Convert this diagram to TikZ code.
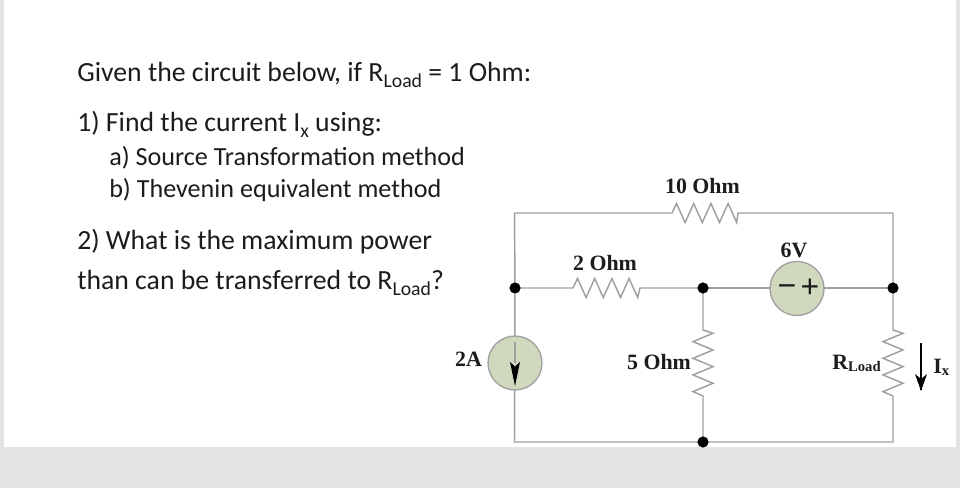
\documentclass[tikz,border=0pt]{standalone}
\usepackage{fontspec}
\setmainfont{Carlito}
\newfontfamily\circfont{Liberation Serif}[Scale=1]
\newfontfamily\signfont{Liberation Sans}
\newcommand{\lowsub}[1]{{\fontsize{14.8pt}{16pt}\selectfont\raisebox{-0.3em}{#1}}}
\begin{document}
\begin{tikzpicture}[x=0.75pt,y=-0.75pt,
  wire/.style={draw=wiregray,line width=1.1pt,line join=miter},
  reshz/.style={to path={-- ++(4.5,-9.5) -- ++(8.6,19) -- ++(8.6,-19) -- ++(8.6,19) -- ++(8.6,-19) -- ++(8.6,19) -- ++(8.6,-19) -- ++(8.6,19) -- (\tikztotarget)}},
  resvt/.style={to path={-- ++(10,3.3) -- ++(-20,8.33) -- ++(20,8.33) -- ++(-20,8.33) -- ++(20,8.33) -- ++(-20,8.33) -- ++(20,8.33) -- ++(-20,8.33) -- (\tikztotarget)}},
  dot/.style={circle,fill=black,inner sep=0pt,minimum size=8.4pt},
  source/.style={circle,draw=wiregray,fill=srcgreen,line width=1pt,inner sep=0pt,minimum size=40.5pt},
  para/.style={anchor=base west,inner sep=0pt,text=inkblack,font=\fontsize{20.8pt}{24pt}\selectfont},
  paraind/.style={para,font=\fontsize{19.6pt}{22pt}\selectfont},
  clabel/.style={anchor=base,inner sep=0pt,text=inkblack,font=\circfont\bfseries\fontsize{16.4pt}{18pt}\selectfont}]
\definecolor{wiregray}{HTML}{A0A0A0}
\definecolor{srcgreen}{HTML}{D0D9BE}
\definecolor{inkblack}{HTML}{1C1C1C}
\definecolor{pagegray}{HTML}{E4E4E4}
\useasboundingbox (0,0) rectangle (960,488);
\fill[pagegray] (0,0) rectangle (960,488);
\fill[white] (4,0) rectangle (956,447);

% text
\node[para] (t1) at (77,82) {Given the circuit below, if R\lowsub{Load} = 1 Ohm:};
\node[para] (t2) at (77,132) {1) Find the current I\lowsub{x} using:};
\node[paraind] (t3) at (109,166) {a) Source Transformation method};
\node[paraind] (t4) at (109,198) {b) Thevenin equivalent method};
\node[para] (t5) at (77,250) {2) What is the maximum power};
\node[para] (t6) at (77,290) {than can be transferred to R\lowsub{Load}?};

% junctions and anchors
\coordinate (tl) at (514.5,213);
\coordinate (tr) at (893,213);
\coordinate (bl) at (514.5,442);
\coordinate (br) at (893,442);
\coordinate (r10a) at (672,213);
\coordinate (r10b) at (738,213);
\coordinate (r2a) at (573,288);
\coordinate (r2b) at (640,288);
\coordinate (r5a) at (703,330);
\coordinate (r5b) at (703,396);
\coordinate (rla) at (893,330);
\coordinate (rlb) at (893,396);
\coordinate (arA) at (515,342);
\coordinate (ixA) at (921,343);
\coordinate (ixB) at (921,390);
\coordinate (nl) at (515,288);
\coordinate (nm) at (703,288);
\coordinate (nr) at (893,288);
\coordinate (nb) at (703,442);

% wires
\draw[wire] (nl) -- (tl) -- (r10a) to[reshz] (r10b) -- (tr) -- (nr);
\draw[wire] (nl) -- (r2a) to[reshz] (r2b) -- (nm);
\draw[wire] (nm) -- (nr);
\draw[wire] (nm) -- (r5a) to[resvt] (r5b) -- (nb);
\draw[wire] (nr) -- (rla) to[resvt] (rlb) -- (br) -- (bl) -- (nl);

% sources and dots on top of the wires
\node[source] (cs) at (515,363) {};
\node[source] (vs) at (797,288.5) {};
\node[dot] (dl) at (nl) {};
\node[dot] (dm) at (nm) {};
\node[dot] (dr) at (nr) {};
\node[dot] (db) at (nb) {};

% current source arrow
\draw[wiregray,line width=0.8pt] (arA) -- (cs.center);
\fill[black] (515,386) -- (510,362) -- (515,366.5) -- (520,362) -- cycle;

% voltage source signs
\node[inner sep=0pt,text=inkblack,font=\signfont\fontsize{24pt}{24pt}\selectfont] (vm) at (787,291) {\symbol{"2212}};
\node[inner sep=0pt,text=inkblack,font=\signfont\fontsize{24pt}{24pt}\selectfont] (vp) at (810,288) {+};

% Ix arrow
\draw[black,line width=1.1pt] (ixA) -- (ixB);
\fill[black] (921,391) -- (915,374) -- (921,379) -- (927,374) -- cycle;

% circuit labels
\node[clabel] (l10) at (702.5,194) {10 Ohm};
\node[clabel] (l2) at (605,271) {2 Ohm};
\node[clabel] (l5) at (659,369) {5 Ohm};
\node[clabel] (l2a) at (468.5,366) {2A};
\node[clabel] (l6v) at (794,258) {6V};
\node[clabel,anchor=base west] (lrl) at (832,369) {R\raisebox{-0.1em}{\fontsize{11pt}{12pt}\selectfont Load}};
\node[clabel,anchor=base west] (lix) at (933,373) {I\raisebox{-0.1em}{\fontsize{11pt}{12pt}\selectfont x}};
\end{tikzpicture}
\end{document}
